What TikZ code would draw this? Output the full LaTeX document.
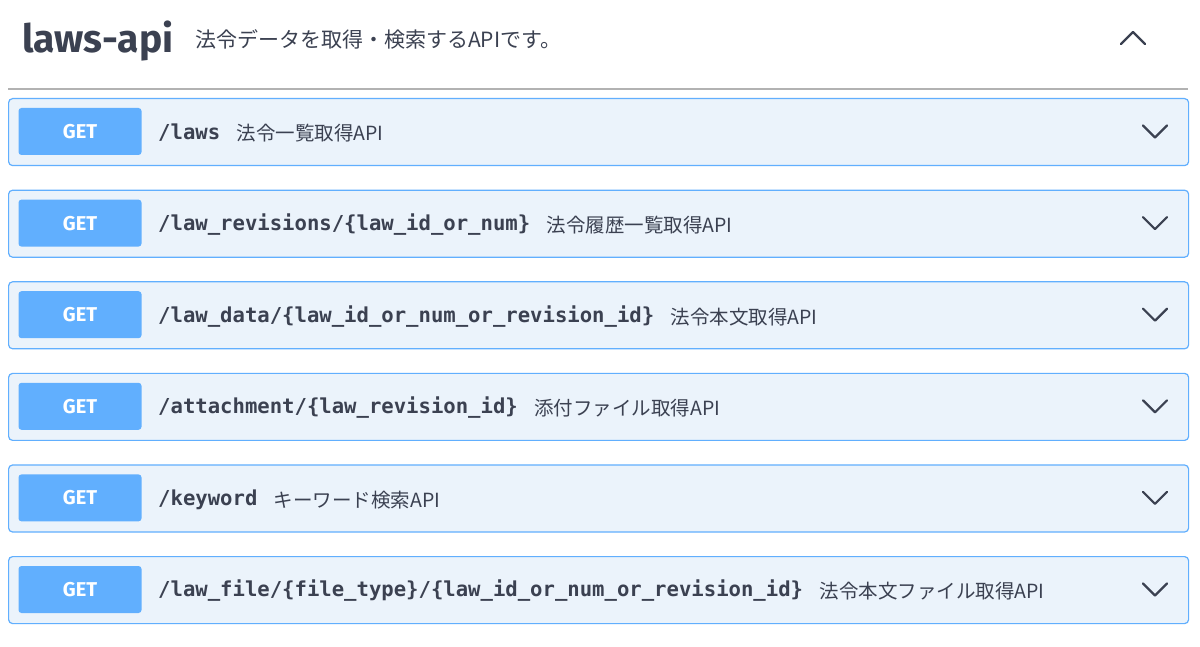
\documentclass[tikz,border=0pt]{standalone}
\usepackage{fontspec}
\setmainfont{Fira Sans}
\newfontfamily\jp{Noto Sans CJK JP}
\newfontfamily\mono{DejaVu Sans Mono}
\definecolor{txt}{HTML}{3B4151}
\definecolor{getc}{HTML}{61AFFE}
\definecolor{rowbg}{HTML}{EBF3FB}
\tikzset{
 row/.style={draw=getc,fill=rowbg,line width=1.2pt,rounded corners=4pt,minimum width=1180pt,minimum height=67pt,anchor=north west,inner sep=0pt},
 getbtn/.style={fill=getc,rounded corners=3pt,minimum width=123pt,minimum height=47pt,inner sep=0pt,text=white,font=\bfseries\fontsize{20pt}{20pt}\selectfont},
 pathtxt/.style={anchor=west,inner sep=0pt,text=txt,font=\mono\bfseries\fontsize{20.6pt}{22pt}\selectfont},
 desctxt/.style={anchor=west,inner sep=0pt,text=txt,font=\jp\fontsize{19.5pt}{21pt}\selectfont},
 chev/.style={draw=txt,line width=2.2pt,line cap=round,line join=round}
}
\begin{document}
\begin{tikzpicture}[x=1pt,y=1pt]
\fill[white] (0,0) rectangle (1200,646);
\useasboundingbox (0,0) rectangle (1200,646);
\node[anchor=west,inner sep=0pt,text=txt,font=\bfseries\fontsize{39pt}{41pt}\selectfont] (title) at (22,605) {laws-api};
\node[anchor=west,inner sep=0pt,text=txt,font=\jp\fontsize{21pt}{22pt}\selectfont] (tdesc) at (195,607) {法令データを取得・検索するAPIです。};
\coordinate (cu) at (1133,608);
\draw[chev] ([shift={(-12,-6)}]cu) -- ([shift={(0,6)}]cu) -- ([shift={(12,-6)}]cu);
\draw[gray!60,line width=1.2pt] (8,557) -- (1188,557);
\foreach \i/\p/\d in {
 0/{/laws}/{法令一覧取得API},
 1/{/law\_revisions/\{law\_id\_or\_num\}}/{法令履歴一覧取得API},
 2/{/law\_data/\{law\_id\_or\_num\_or\_revision\_id\}}/{法令本文取得API},
 3/{/attachment/\{law\_revision\_id\}}/{添付ファイル取得API},
 4/{/keyword}/{キーワード検索API},
 5/{/law\_file/\{file\_type\}/\{law\_id\_or\_num\_or\_revision\_id\}}/{法令本文ファイル取得API}}{
 \pgfmathsetmacro{\yt}{646-98-91.6*\i}
 \node[row] (r\i) at (8,\yt) {};
 \node[getbtn] (g\i) at (80,\yt-33.5) {GET};
 \node[pathtxt] (p\i) at (158,\yt-35) {\p};
 \node[desctxt] (d\i) at ([xshift=16pt,yshift=-0.5pt]p\i.east) {\d};
 \coordinate (c\i) at (1155,\yt-33.5);
 \draw[chev] ([shift={(-12,6)}]c\i) -- ([shift={(0,-6)}]c\i) -- ([shift={(12,6)}]c\i);
}
\end{tikzpicture}
\end{document}
